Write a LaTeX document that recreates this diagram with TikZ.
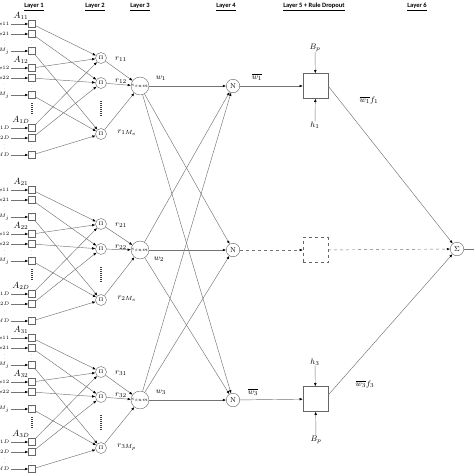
\documentclass[tikz,border=0pt]{standalone}
\usepackage{fontspec}
\newfontfamily\layerfont{Carlito}
\usetikzlibrary{positioning, calc, shapes.geometric, arrows.meta}
\tikzstyle{Arrow} = [draw=black!55, line width=0.45pt,
-{Latex[length=3.2pt, width=2.6pt, black]}]
\tikzstyle{Line} = [draw=black!55, line width=0.45pt]
\tikzstyle{Head} = [font=\layerfont\bfseries\fontsize{6.5}{7}\selectfont]
\tikzstyle{InBox} = [draw=black!60, minimum size=7pt, inner sep=0pt]
\tikzstyle{RuleNode} = [circle, draw=black!60, minimum size=11pt, inner sep=0pt,
font=\fontsize{5}{5}\selectfont]
\tikzstyle{SumNode} = [circle, draw=black!60, minimum size=13.5pt, inner sep=0pt,
font=\fontsize{7}{7}\selectfont]
\tikzstyle{RuleBox} = [draw=black!60, minimum size=25pt, inner sep=0pt]
\tikzstyle{InLabel} = [anchor=east, inner sep=1pt, font=\fontsize{5.5}{5.5}\selectfont]
\tikzstyle{Lbl} = [inner sep=0pt, font=\fontsize{8}{8}\selectfont]
\tikzstyle{BigLbl} = [inner sep=0pt, font=\fontsize{9}{9}\selectfont]
\tikzstyle{Dots} = [inner sep=0pt, font=\fontsize{4}{4}\selectfont]
\tikzstyle{BigDots} = [draw=black!75, line width=1.3pt, dash pattern=on 1pt off 1pt]

\begin{document}
\begin{tikzpicture}[x=1pt, y=-1pt]
    \useasboundingbox (0,0) rectangle (474,474);
    % headers
    \node [Head] (h1) at (34,7) {\underline{Layer 1}};
    \node [Head] (h2) at (95,7) {\underline{Layer 2}};
    \node [Head] (h3) at (140,7) {\underline{Layer 3}};
    \node [Head] (h4) at (226,7) {\underline{Layer 4}};
    \node [Head] (h5) at (314,7) {\underline{Layer 5 + Rule Dropout}};
    \node [Head] (h6) at (417,7) {\underline{Layer 6}};
    % layer 4, 5, 6
    \node [SumNode] (n1) at (233,86) {N};
    \node [SumNode] (n2) at (233,250) {N};
    \node [SumNode] (n3) at (233,400) {N};
    \node [RuleBox] (b1) at (315.5,86) {};
    \node [RuleBox, dashed] (b2) at (315.5,250) {};
    \node [RuleBox] (b3) at (315.5,399) {};
    \node [SumNode] (sum) at (457,249) {$\Sigma$};
    \coordinate (out) at (480,249);
    \node [Lbl] (bp1) at (315,48) {$B_p$};
    \node [Lbl] (hh1) at (315,125) {$h_1$};
    \node [Lbl] (hh3) at (315,362) {$h_3$};
    \node [Lbl] (bp3) at (316,440) {$B_p$};
    % blocks of rules
    \foreach \blk/\y/\sy/\rm in {1/24/86/M_e, 2/190/250/M_e, 3/338/400/M_p} {
        \node [SumNode, minimum size=12.5pt, font=\fontsize{3.5}{3.5}\selectfont] (s\blk) at (140,\sy) {$s_{sum}$};
        \node [RuleNode] (p\blk1) at (101,\y+34) {$\Pi$};
        \node [RuleNode] (p\blk2) at (101,\y+59) {$\Pi$};
        \node [RuleNode] (p\blk3) at (101,\y+110) {$\Pi$};
        \node [Lbl] at (121,\y+35) {$r_{\blk1}$};
        \node [Lbl] at (121,\y+57) {$r_{\blk2}$};
        \node [Lbl] at (127,\y+109) {$r_{\blk\rm}$};
        \draw [BigDots] (101,\y+77) -- (101,\y+92);
        \draw [BigDots] (32,\y+79) -- (32,\y+90);
        \foreach \grp/\gy/\gl/\gm in {1/0/1/M_j, 2/44/2/M_j, 3/104/D/MD} {
            \node [InBox] (x\blk\grp1) at (32,\y+\gy) {};
            \node [InBox] (x\blk\grp2) at (32,\y+\gy+10) {};
            \node [InBox] (x\blk\grp3) at (32,\y+\gy+27) {};
            \node [InLabel] (l\blk\grp1) at (11,\y+\gy) {$x_{p1\gl}$};
            \node [InLabel] (l\blk\grp2) at (11,\y+\gy+10) {$x_{p2\gl}$};
            \node [InLabel] (l\blk\grp3) at (11,\y+\gy+27) {$x_{p\gm}$};
            \node [Dots] at (32,\y+\gy+18.5) {$\vdots$};
            \node [Dots] at (5,\y+\gy+18.5) {$\vdots$};
            \node [BigLbl] at (21,\y+\gy-8) {$A_{\blk\gl}$};
            \foreach \row in {1,2,3} {
                \draw [Arrow] (l\blk\grp\row.east) -- (x\blk\grp\row);
                \draw [Arrow] (x\blk\grp\row) -- (p\blk\row);
            }
        }
        \foreach \row in {1,2,3}
            \draw [Arrow] (p\blk\row) -- (s\blk);
        \foreach \n in {1,2,3}
            \draw [Arrow] (s\blk) -- (n\n);
    }
    \node [Lbl] (w1) at (161,78) {$w_1$};
    \node [Lbl] (w2) at (159,259) {$w_2$};
    \node [Lbl] (w3) at (161,392) {$w_3$};
    \node [Lbl] (wb1) at (257,77) {$\overline{w_1}$};
    \node [Lbl] (wb3) at (253,392) {$\overline{w_3}$};
    \node [Lbl] (wf1) at (369,100) {$\overline{w_1}f_1$};
    \node [Lbl] (wf3) at (365,384) {$\overline{w_3}f_3$};
    \draw [Arrow] (n1) -- (b1);
    \draw [Arrow, dashed] (n2) -- (b2);
    \draw [Arrow] (n3) -- (b3);
    \draw [Arrow] (bp1) -- (b1);
    \draw [Arrow] (hh1) -- (b1);
    \draw [Arrow] (hh3) -- (b3);
    \draw [Arrow] (bp3) -- (b3);
    \draw [Arrow] (b1.east) -- (sum);
    \draw [Arrow, dashed] (b2) -- (sum);
    \draw [Arrow] ($(b3.east)+(0,-4)$) -- (sum);
    \draw [Line] (sum) -- (out);
\end{tikzpicture}
\end{document}
